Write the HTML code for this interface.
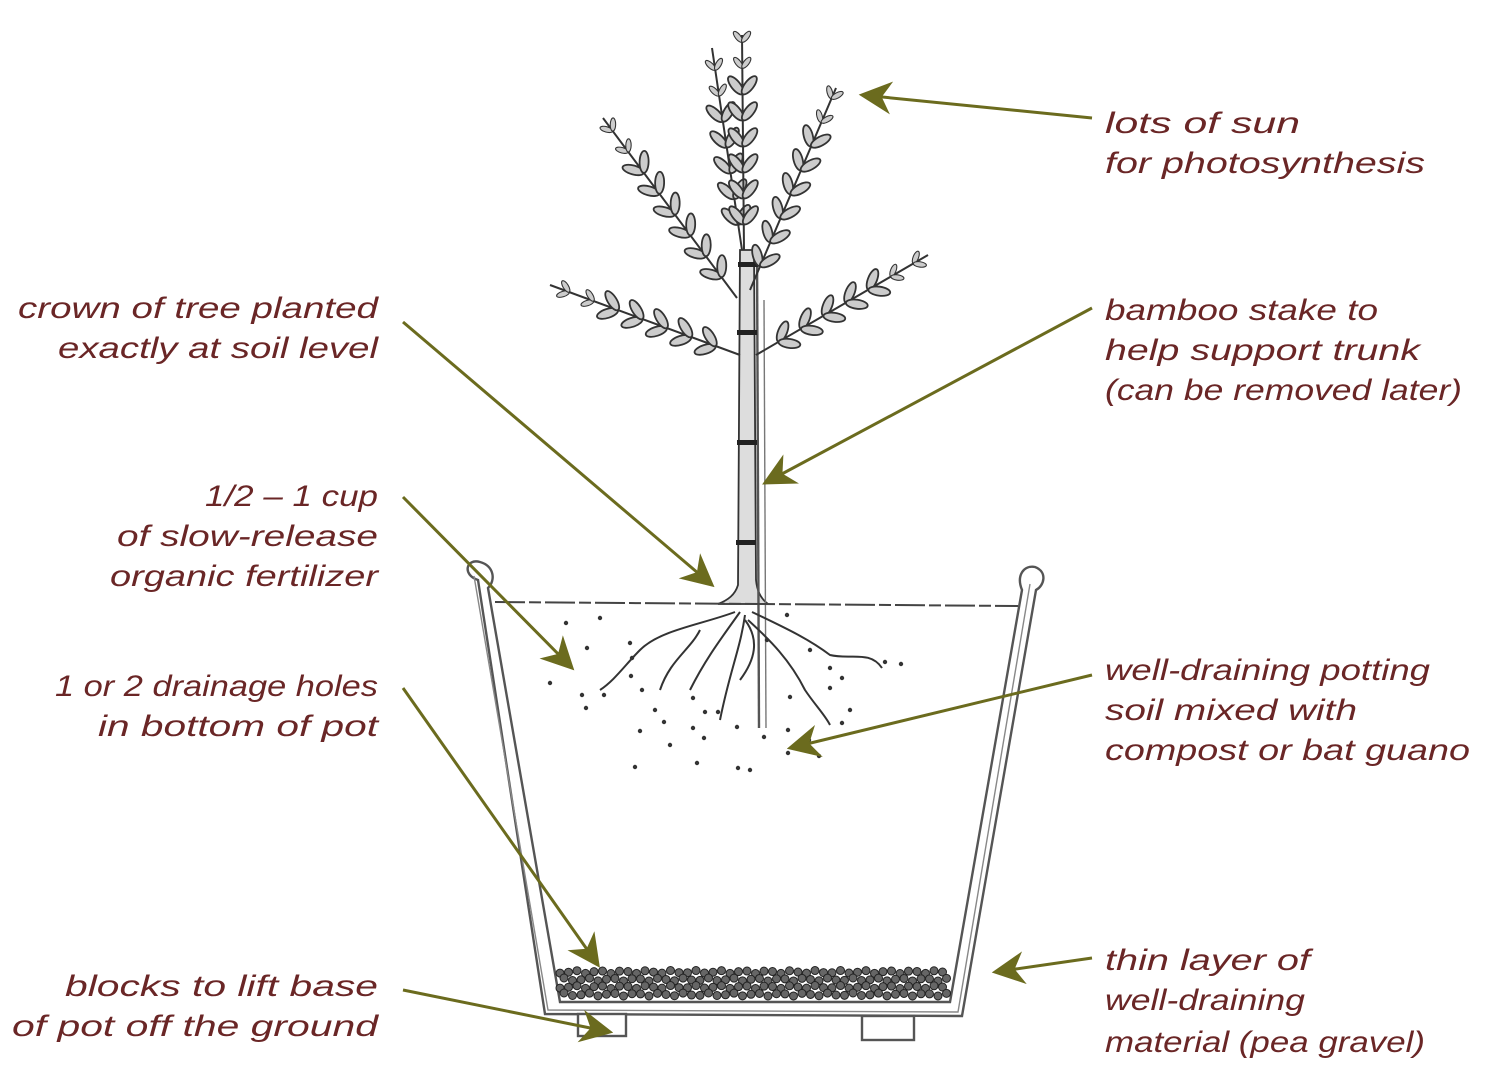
<!DOCTYPE html>
<html><head><meta charset="utf-8"><style>
html,body{margin:0;padding:0;background:#fff;}
svg{display:block;}
.t{font-family:"Liberation Sans",sans-serif;font-style:italic;font-size:30px;fill:#6a2626;}
</style></head><body>
<svg id="s" width="1500" height="1077" viewBox="0 0 1500 1077" xmlns="http://www.w3.org/2000/svg">
<defs>
<marker id="ah" viewBox="0 0 10 10" refX="9" refY="5" markerWidth="11" markerHeight="11" markerUnits="strokeWidth" orient="auto">
<path d="M0,0 L10,5 L0,10 L3,5 z" fill="#6b6b1e"/>
</marker>
</defs>
<rect width="1500" height="1077" fill="#fff"/>
<g id="plant" stroke="#333" fill="none" stroke-width="2.2"></g>
<!-- pot -->
<g stroke="#555" fill="none" stroke-width="2.4">
<path d="M478,580 C462,575 466,558 480,562 C494,566 496,580 488,588 L560,1002 L950,1002 L1022,590 C1016,575 1024,565 1035,567 C1048,572 1044,586 1036,590 L962,1016 L545,1014 Z" fill="#fff"/>
<path d="M474,576 L548,1010 L958,1012 L1030,584" stroke="#888" stroke-width="1.4"/>
<line x1="495" y1="602" x2="1018" y2="606" stroke="#444" stroke-width="2" stroke-dasharray="30 4 12 4"/>
<rect x="578" y="1014" width="48" height="22" fill="#fff"/>
<rect x="862" y="1016" width="52" height="24" fill="#fff"/>
</g>
<g id="gravel" fill="#666" stroke="#222" stroke-width="1"></g>
<g id="dots" fill="#333"></g>
<!-- arrows -->
<g stroke="#6b6b1e" stroke-width="3" fill="none" marker-end="url(#ah)">
<line x1="1092" y1="118" x2="862" y2="95"/>
<line x1="1092" y1="308" x2="765" y2="483"/>
<line x1="403" y1="322" x2="712" y2="585"/>
<line x1="403" y1="497" x2="572" y2="668"/>
<line x1="1092" y1="675" x2="790" y2="748"/>
<line x1="403" y1="688" x2="598" y2="965"/>
<line x1="1092" y1="958" x2="995" y2="972"/>
<line x1="403" y1="990" x2="610" y2="1032"/>
</g>
<g class="t">
<text x="1105" y="133" textLength="195" lengthAdjust="spacingAndGlyphs">lots of sun</text>
<text x="1105" y="173" textLength="320" lengthAdjust="spacingAndGlyphs">for photosynthesis</text>
<text x="1105" y="320" textLength="273" lengthAdjust="spacingAndGlyphs">bamboo stake to</text>
<text x="1105" y="360" textLength="315" lengthAdjust="spacingAndGlyphs">help support trunk</text>
<text x="1105" y="400" textLength="357" lengthAdjust="spacingAndGlyphs">(can be removed later)</text>
<text x="1105" y="680" textLength="325" lengthAdjust="spacingAndGlyphs">well-draining potting</text>
<text x="1105" y="720" textLength="252" lengthAdjust="spacingAndGlyphs">soil mixed with</text>
<text x="1105" y="760" textLength="365" lengthAdjust="spacingAndGlyphs">compost or bat guano</text>
<text x="1105" y="970" textLength="205" lengthAdjust="spacingAndGlyphs">thin layer of</text>
<text x="1105" y="1010" textLength="200" lengthAdjust="spacingAndGlyphs">well-draining</text>
<text x="1105" y="1052" textLength="320" lengthAdjust="spacingAndGlyphs">material (pea gravel)</text>
<text x="18" y="318" textLength="360" lengthAdjust="spacingAndGlyphs">crown of tree planted</text>
<text x="58" y="358" textLength="320" lengthAdjust="spacingAndGlyphs">exactly at soil level</text>
<text x="205" y="506" textLength="173" lengthAdjust="spacingAndGlyphs">1/2 – 1 cup</text>
<text x="117" y="546" textLength="261" lengthAdjust="spacingAndGlyphs">of slow-release</text>
<text x="110" y="586" textLength="268" lengthAdjust="spacingAndGlyphs">organic fertilizer</text>
<text x="55" y="696" textLength="323" lengthAdjust="spacingAndGlyphs">1 or 2 drainage holes</text>
<text x="98" y="736" textLength="280" lengthAdjust="spacingAndGlyphs">in bottom of pot</text>
<text x="65" y="996" textLength="313" lengthAdjust="spacingAndGlyphs">blocks to lift base</text>
<text x="12" y="1036" textLength="366" lengthAdjust="spacingAndGlyphs">of pot off the ground</text>
</g>
</svg>
<script>
(function(){
var NS="http://www.w3.org/2000/svg";
function el(p,n,a){var e=document.createElementNS(NS,n);for(var k in a)e.setAttribute(k,a[k]);p.appendChild(e);return e;}
var P=document.getElementById('plant');
// trunk
el(P,'path',{d:"M740,250 L738,585 C735,595 728,600 718,604 L768,604 C760,598 757,590 756,580 L754,250 Z",fill:"#ddd",'stroke-width':1.8});
el(P,'line',{x1:757,y1:250,x2:759,y2:728,'stroke-width':2.4,stroke:'#555'});
el(P,'line',{x1:764,y1:300,x2:766,y2:728,'stroke-width':1.4,stroke:'#777'});
[[738,262],[737,330],[737,440],[736,540]].forEach(function(b){el(P,'rect',{x:b[0],y:b[1],width:20,height:5,fill:'#222',stroke:'none'});});
// roots
["M735,612 C700,625 660,630 640,650 C625,665 615,680 600,690",
"M740,612 C720,640 705,660 690,690",
"M745,615 C740,650 730,670 720,720",
"M748,620 C770,640 790,660 805,690 C815,705 825,715 830,725",
"M752,612 C790,630 810,640 830,655 C850,660 870,650 882,668",
"M745,620 C760,640 755,660 740,680",
"M700,630 C690,650 670,660 660,690"].forEach(function(d){el(P,'path',{d:d,'stroke-width':2});});
// branches
var br=[[740,355,550,285],[737,298,603,118],[742,250,712,48],[744,250,742,35],[750,290,836,88],[756,355,928,255]];
br.forEach(function(b){
 el(P,'line',{x1:b[0],y1:b[1],x2:b[2],y2:b[3],'stroke-width':2});
 var dx=b[2]-b[0],dy=b[3]-b[1],L=Math.hypot(dx,dy),ux=dx/L,uy=dy/L,ang=Math.atan2(dy,dx)*180/Math.PI;
 var n=Math.floor(L/26);
 for(var i=1;i<=n;i++){
  var x=b[0]+ux*i*26,y=b[1]+uy*i*26,s=(i>n-2)?0.6:1;
  [-38,38].forEach(function(o){
   var g=el(P,'g',{transform:"translate("+x+","+y+") rotate("+(ang+o)+") scale("+s+")"});
   el(g,'ellipse',{cx:11,cy:0,rx:11,ry:4.5,fill:'#ccc','stroke-width':1.8});
  });
 }
});
// gravel
var G=document.getElementById('gravel');
for(var r=0;r<4;r++){for(var x=560+(r%2)*4;x<950;x+=8.5){var y=972+r*7.5+Math.sin(x)*1.5; if(y<1000)el(G,'circle',{cx:x,cy:y,r:4});}}
// dots
var D=document.getElementById('dots');
[[566,623],[600,618],[587,648],[568,665],[550,683],[582,695],[586,708],[630,643],[632,658],[631,676],[604,695],[642,690],[655,710],[693,698],[705,712],[718,712],[664,722],[693,728],[704,738],[737,727],[640,731],[670,745],[750,770],[697,763],[738,768],[635,767],[788,753],[819,756],[809,740],[788,730],[764,737],[790,697],[830,688],[850,710],[885,662],[901,664],[787,615],[767,640],[810,650],[842,723],[830,668],[842,678]].forEach(function(p){el(D,'circle',{cx:p[0],cy:p[1],r:2.2});});
})();
</script>
</body></html>
